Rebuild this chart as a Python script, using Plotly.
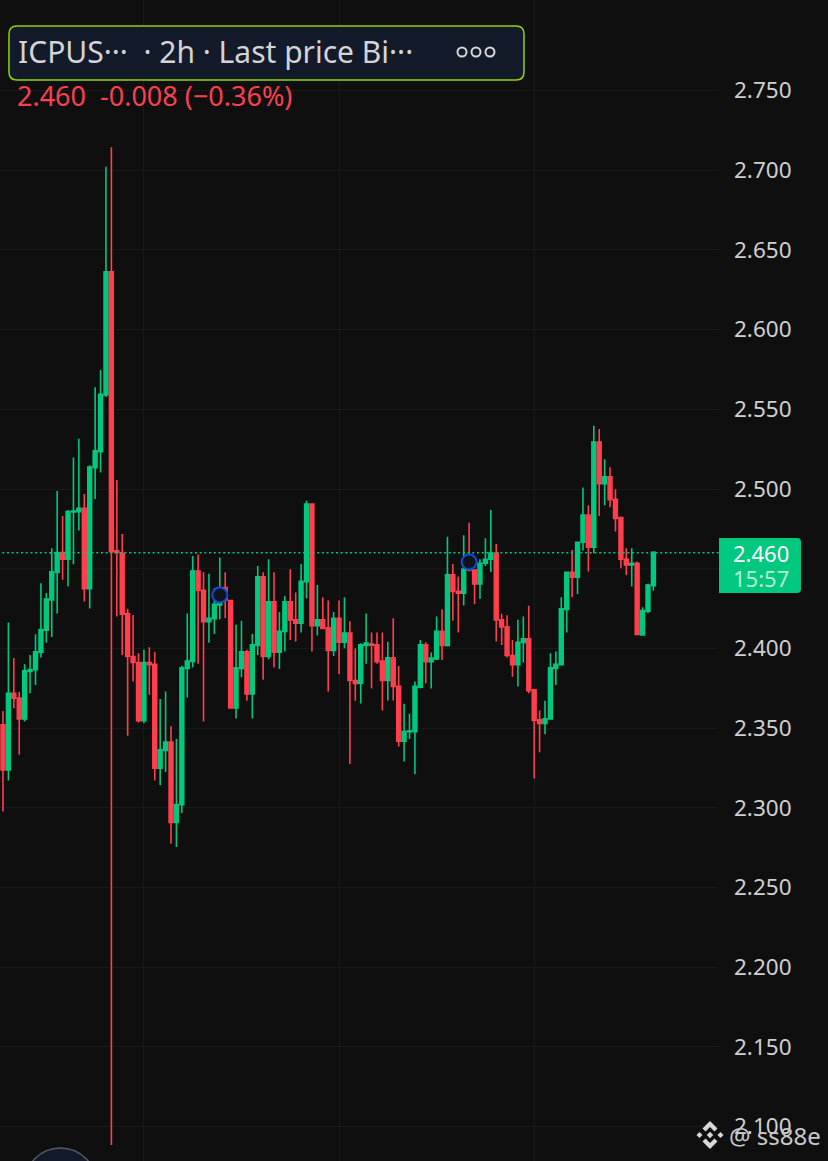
import plotly.graph_objects as go

# candles, oldest first (2h bars)
opens = [
    2.3520, 2.3237, 2.3719, 2.3688, 2.3558, 2.3855, 2.3866, 2.3974, 2.4114, 2.4304,
    2.4476, 2.4601, 2.4559, 2.4856, 2.4858, 2.4879, 2.4375, 2.5134, 2.5234, 2.5590,
    2.6363, 2.4612, 2.4597, 2.4219, 2.3949, 2.3912, 2.3546, 2.3912, 2.3901, 2.3249,
    2.3360, 2.3412, 2.2908, 2.3019, 2.3874, 2.3918, 2.4486, 2.4365, 2.4168, 2.4187,
    2.4273, 2.4382, 2.4300, 2.3627, 2.3874, 2.3978, 2.3715, 2.4018, 2.4449, 2.3949,
    2.4292, 2.3976, 2.4106, 2.4292, 2.4179, 2.4158, 2.4419, 2.4906, 2.4143, 2.4179,
    2.4129, 2.3987, 2.4189, 2.4039, 2.4097, 2.3799, 2.3780, 2.4018, 2.4028, 2.4022,
    2.3920, 2.3799, 2.3941, 2.3763, 2.3418, 2.3477, 2.3477, 2.3757, 2.4022, 2.3916,
    2.3934, 2.4108, 2.4018, 2.4461, 2.4359, 2.4346, 2.4538, 2.4492, 2.4405, 2.4534,
    2.4559, 2.4599, 2.4179, 2.4135, 2.3955, 2.3897, 2.4037, 2.4060, 2.3740, 2.3552,
    2.3529, 2.3558, 2.3874, 2.3897, 2.4244, 2.4478, 2.4446, 2.4666, 2.4837, 2.4635,
    2.5295, 2.5034, 2.5076, 2.4936, 2.4821, 2.4559, 2.4524, 2.4534, 2.4085, 2.4233,
    2.4394,
]
highs = [
    2.3607, 2.4162, 2.3939, 2.3727, 2.3901, 2.3959, 2.4089, 2.4409, 2.4348, 2.4628,
    2.4988, 2.4831, 2.4869, 2.5197, 2.5316, 2.4969, 2.5149, 2.5638, 2.5747, 2.7022,
    2.7144, 2.5057, 2.4718, 2.4248, 2.4210, 2.3970, 2.3991, 2.4008, 2.3978, 2.3682,
    2.3730, 2.3512, 2.3431, 2.3891, 2.4219, 2.4580, 2.4589, 2.4478, 2.4469, 2.4377,
    2.4570, 2.4478, 2.4302, 2.4148, 2.4173, 2.3991, 2.4091, 2.4517, 2.4478, 2.4559,
    2.4478, 2.4229, 2.4329, 2.4497, 2.4350, 2.4530, 2.4927, 2.4908, 2.4398, 2.4321,
    2.4300, 2.4229, 2.4300, 2.4321, 2.4171, 2.4000, 2.4033, 2.4219, 2.4099, 2.4099,
    2.4099, 2.4041, 2.4189, 2.3890, 2.3652, 2.3590, 2.3792, 2.4053, 2.4039, 2.3974,
    2.4200, 2.4246, 2.4701, 2.4530, 2.4451, 2.4710, 2.4789, 2.4494, 2.4559, 2.4691,
    2.4869, 2.4655, 2.4217, 2.4208, 2.4053, 2.4179, 2.4200, 2.4267, 2.3742, 2.3611,
    2.3671, 2.3970, 2.3980, 2.4321, 2.4480, 2.4618, 2.4670, 2.5009, 2.4898, 2.5397,
    2.5377, 2.5186, 2.5136, 2.4998, 2.4823, 2.4628, 2.4628, 2.4545, 2.4258, 2.4405,
    2.4610,
]
lows = [
    2.2977, 2.3171, 2.3625, 2.3333, 2.3541, 2.3719, 2.3771, 2.3943, 2.4035, 2.4072,
    2.4219, 2.4430, 2.4388, 2.4528, 2.4739, 2.4294, 2.4250, 2.4938, 2.5103, 2.5577,
    2.0885, 2.4200, 2.3959, 2.3452, 2.3792, 2.3535, 2.3531, 2.3709, 2.3171, 2.3142,
    2.3224, 2.2775, 2.2754, 2.2967, 2.3692, 2.3880, 2.3903, 2.3541, 2.4035, 2.4091,
    2.4183, 2.4191, 2.3623, 2.3560, 2.3819, 2.3671, 2.3560, 2.3959, 2.3803, 2.3932,
    2.3880, 2.3870, 2.3980, 2.4053, 2.4043, 2.4099, 2.4313, 2.3980, 2.4081, 2.4120,
    2.3730, 2.3953, 2.3840, 2.4001, 2.3274, 2.3671, 2.3654, 2.3903, 2.3748, 2.3903,
    2.3610, 2.3673, 2.3673, 2.3385, 2.3291, 2.3431, 2.3211, 2.3748, 2.3782, 2.3748,
    2.3928, 2.3928, 2.4012, 2.4173, 2.4099, 2.4269, 2.4482, 2.4277, 2.4311, 2.4517,
    2.4480, 2.4043, 2.4022, 2.3943, 2.3822, 2.3761, 2.3911, 2.3719, 2.3184, 2.3349,
    2.3462, 2.3556, 2.3771, 2.3895, 2.4100, 2.4321, 2.4342, 2.4614, 2.4482, 2.4597,
    2.4831, 2.4898, 2.4885, 2.4733, 2.4503, 2.4461, 2.4388, 2.4085, 2.4079, 2.4221,
    2.4361,
]
closes = [
    2.3237, 2.3719, 2.3688, 2.3558, 2.3859, 2.3868, 2.3978, 2.4118, 2.4309, 2.4480,
    2.4601, 2.4559, 2.4858, 2.4862, 2.4879, 2.4375, 2.5138, 2.5239, 2.5594, 2.6363,
    2.4607, 2.4601, 2.4215, 2.3949, 2.3912, 2.3546, 2.3912, 2.3897, 2.3249, 2.3364,
    2.3412, 2.2908, 2.3021, 2.3878, 2.3920, 2.4486, 2.4363, 2.4168, 2.4189, 2.4277,
    2.4367, 2.4304, 2.3627, 2.3878, 2.3978, 2.3715, 2.4022, 2.4449, 2.3949, 2.4292,
    2.3976, 2.4108, 2.4292, 2.4179, 2.4158, 2.4421, 2.4906, 2.4143, 2.4179, 2.4125,
    2.3987, 2.4189, 2.4039, 2.4097, 2.3799, 2.3780, 2.4022, 2.4033, 2.4020, 2.3916,
    2.3799, 2.3941, 2.3761, 2.3418, 2.3479, 2.3483, 2.3763, 2.4022, 2.3916, 2.3939,
    2.4108, 2.4018, 2.4461, 2.4357, 2.4346, 2.4497, 2.4492, 2.4405, 2.4534, 2.4559,
    2.4599, 2.4179, 2.4135, 2.3955, 2.3897, 2.4039, 2.4060, 2.3734, 2.3548, 2.3529,
    2.3558, 2.3878, 2.3901, 2.4248, 2.4478, 2.4446, 2.4666, 2.4837, 2.4635, 2.5295,
    2.5034, 2.5076, 2.4933, 2.4816, 2.4559, 2.4524, 2.4534, 2.4087, 2.4237, 2.4398,
    2.4603,
]
bars = list(range(len(opens)))

price_ticks = [2.10, 2.15, 2.20, 2.25, 2.30, 2.35, 2.40, 2.50, 2.55, 2.60, 2.65, 2.70, 2.75]
tick_text = ["%.3f" % p for p in price_ticks]
day_bars = [26, 62, 98]

signal_bars = [40, 86]
signal_prices = [2.4335, 2.4542]
last_price = 2.460

W, H = 828, 1161
BG = "#0f0f10"
GRID = "#1a1a1b"
GREEN = "#00c87e"
RED = "#ff3f4d"
FONT = "Noto Sans"


def px(x):
    return x / W


def py(y):
    return 1 - y / H


def path(points):
    return "M " + " L ".join("%.4f,%.4f" % (px(x), py(y)) for x, y in points) + " Z"


fig = go.Figure()

fig.add_trace(go.Candlestick(
    x=bars, open=opens, high=highs, low=lows, close=closes,
    increasing=dict(line=dict(color=GREEN, width=1.6), fillcolor=GREEN),
    decreasing=dict(line=dict(color=RED, width=1.6), fillcolor=RED),
    whiskerwidth=0,
    showlegend=False,
))
fig.add_trace(go.Scatter(
    x=signal_bars, y=signal_prices, mode="markers",
    marker=dict(size=15, color="#10131a", line=dict(color="#0b4fd8", width=2)),
    showlegend=False,
))

# 2.450 has no label (the price tag covers it) but still has its grid line
fig.add_shape(type="line", xref="x", yref="y", x0=-1, x1=132.1, y0=2.45, y1=2.45,
              line=dict(color=GRID, width=1), layer="below")
fig.add_shape(type="line", xref="x", yref="y", x0=-1, x1=132.1, y0=last_price, y1=last_price,
              line=dict(color=GREEN, width=1.3, dash="2px,2.7px"), layer="above")

shapes = [
    # title pill
    dict(type="path", path="M %f,%f L %f,%f Q %f,%f %f,%f L %f,%f Q %f,%f %f,%f L %f,%f Q %f,%f %f,%f L %f,%f Q %f,%f %f,%f Z" % (
        px(17), py(26), px(516), py(26), px(524), py(26), px(524), py(34), px(524), py(72),
        px(524), py(80), px(516), py(80), px(17), py(80), px(9), py(80), px(9), py(72),
        px(9), py(34), px(9), py(26), px(17), py(26)),
        fillcolor="#131a2a", line=dict(color="#90d40a", width=1.5)),
    # price tag
    dict(type="path", path="M %f,%f L %f,%f Q %f,%f %f,%f L %f,%f Q %f,%f %f,%f L %f,%f Z" % (
        px(719), py(538), px(797), py(538), px(801), py(538), px(801), py(542), px(801), py(589),
        px(801), py(593), px(797), py(593), px(719), py(593)),
        fillcolor=GREEN, line=dict(width=0)),
    # round button cut by the bottom edge
    dict(type="circle", x0=px(24.5), x1=px(96.5), y0=py(1148), y1=py(1220),
         fillcolor="#131a2a", line=dict(color="#555a63", width=1.5)),
]
for cx in (462, 476, 490):
    shapes.append(dict(type="circle", x0=px(cx - 4.5), x1=px(cx + 4.5), y0=py(52 + 4.5), y1=py(52 - 4.5),
                       line=dict(color="#d6d6d6", width=2)))
# exchange logo of the watermark
for cx, cy, r in [(710, 1135, 3.2), (699.5, 1135, 3), (720.5, 1135, 3)]:
    shapes.append(dict(type="path", path=path([(cx, cy - r), (cx + r, cy), (cx, cy + r), (cx - r, cy)]),
                       fillcolor="#d8d8d8", line=dict(width=0)))
shapes.append(dict(type="path", path=path([(710, 1121), (717.5, 1128.5), (714.5, 1131.5), (710, 1127), (705.5, 1131.5), (702.5, 1128.5)]),
                   fillcolor="#d8d8d8", line=dict(width=0)))
shapes.append(dict(type="path", path=path([(710, 1149), (717.5, 1141.5), (714.5, 1138.5), (710, 1143), (705.5, 1138.5), (702.5, 1141.5)]),
                   fillcolor="#d8d8d8", line=dict(width=0)))
for s in shapes:
    s.update(xref="paper", yref="paper", layer="above")
    fig.add_shape(**s)

texts = [
    ("ICPUS\u00b7\u00b7\u00b7  \u00b7 2h \u00b7 Last price Bi\u00b7\u00b7\u00b7", 16, 51.5, 30, "#d4d4d4", "left"),
    ("2.460  -0.008 (\u22120.36%)", 15, 96, 27, "#f8414f", "left"),
    ("2.460", 791, 553, 22, "#ffffff", "right"),
    ("15:57", 791, 578, 22, "#b5eed6", "right"),
    ("@ ss88e", 823, 1135, 24, "#c8c8c8", "right"),
]
for text, x, y, size, color, align in texts:
    fig.add_annotation(text=text, xref="paper", yref="paper", x=px(x), y=py(y), showarrow=False,
                       xanchor=align, yanchor="middle", font=dict(family=FONT, size=size, color=color))

fig.update_layout(
    width=W, height=H,
    margin=dict(l=0, r=0, t=0, b=0),
    paper_bgcolor=BG, plot_bgcolor=BG,
    boxgap=0,
    showlegend=False,
    xaxis=dict(domain=[0, 719 / W], range=[-0.55, 132.1], rangeslider=dict(visible=False),
               tickvals=day_bars, ticktext=["", "", ""], showgrid=True, gridcolor=GRID, gridwidth=1,
               zeroline=False, showline=False, ticks=""),
    yaxis=dict(side="right", range=[2.0784, 2.8068], tickvals=price_ticks, ticktext=tick_text,
               showgrid=True, gridcolor=GRID, gridwidth=1, zeroline=False, showline=False, ticks="",
               ticklabelstandoff=14, tickfont=dict(family=FONT, size=22.5, color="#cfcfcf")),
)

fig.write_html("out.html", config=dict(displayModeBar=False), post_script="document.body.style.margin='0';")
